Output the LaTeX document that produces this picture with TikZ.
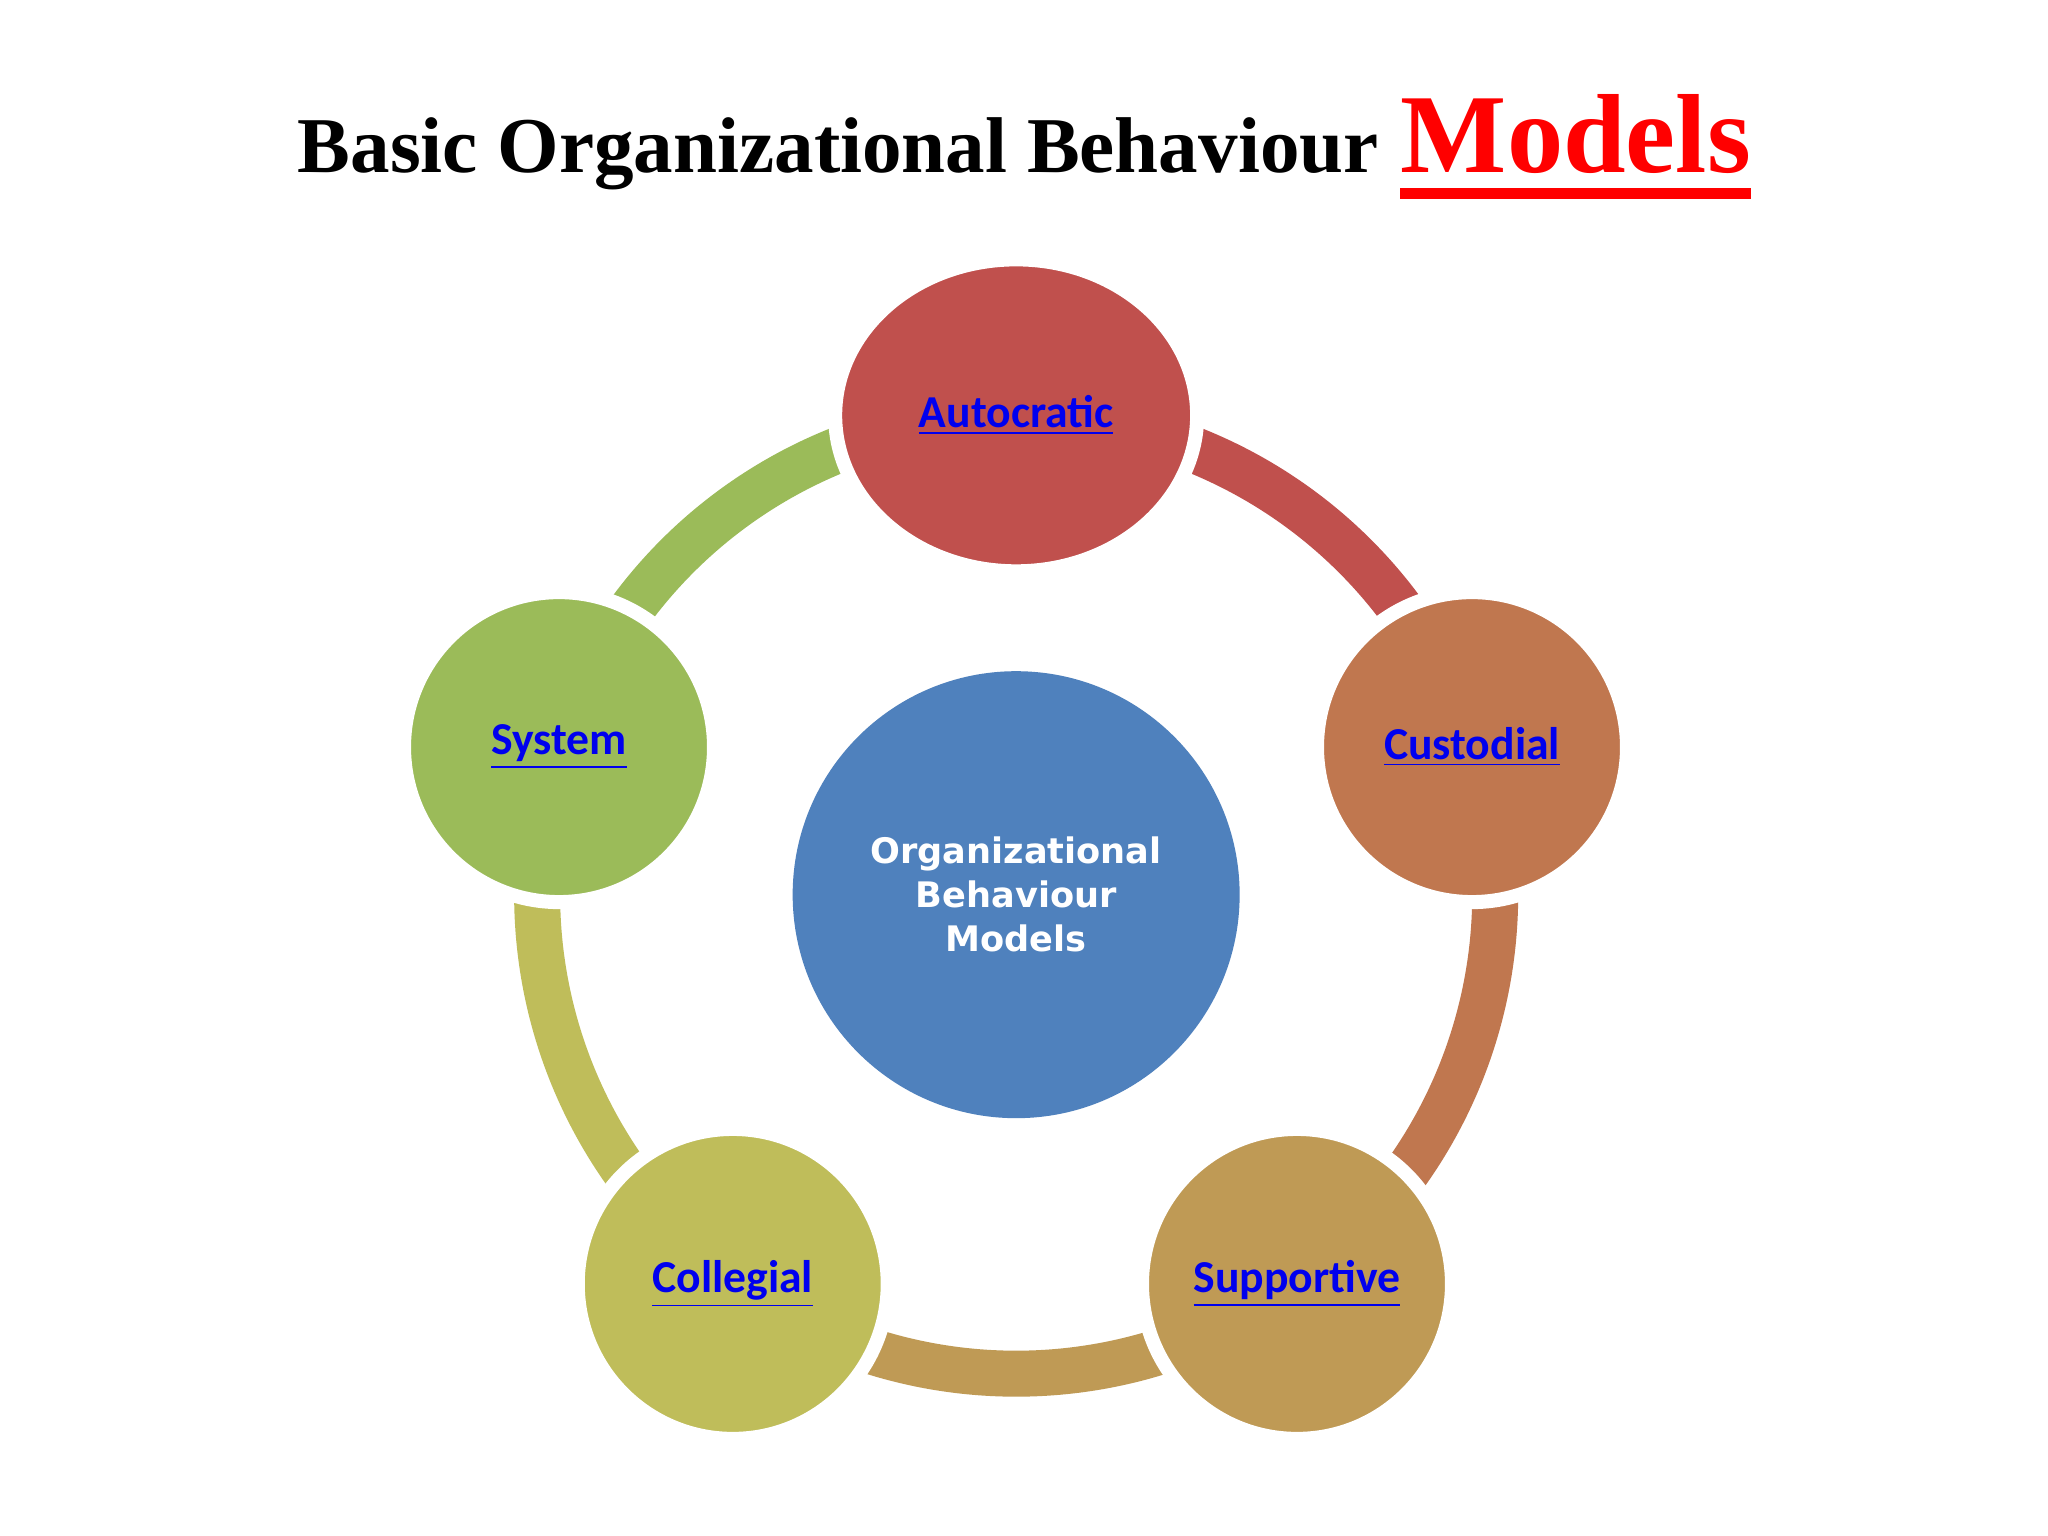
\documentclass[tikz,border=0pt]{standalone}
\usepackage{fontspec}
\setmainfont{Liberation Serif}
\newfontfamily\calibri{Carlito}
\newfontfamily\heavy{DejaVu Sans}
\usetikzlibrary{positioning,shapes.geometric}

\definecolor{autored}{HTML}{C0504D}
\definecolor{custorange}{HTML}{C0774F}
\definecolor{supptan}{HTML}{BF9A55}
\definecolor{collolive}{HTML}{BFBD5A}
\definecolor{sysgreen}{HTML}{9BBB59}
\definecolor{centreblue}{HTML}{4F81BD}
\definecolor{linkblue}{HTML}{0000EE}

\tikzset{
  model/.style={circle, draw=white, line width=4pt, minimum size=3.1cm, text=linkblue, font=\calibri\bfseries\fontsize{13}{16}\selectfont},
  ring/.style={line width=0.46cm},
}

\begin{document}
\begin{tikzpicture}[x=0.013061cm, y=-0.013061cm]
\useasboundingbox[fill=white] (0,0) rectangle (1568,1176);

% title
\node[anchor=base east, inner sep=0pt, font=\fontsize{22.5}{26}\selectfont\bfseries] (title) at (1056,132) {Basic Organizational Behaviour};
\node[anchor=base west, inner sep=0pt, text=red, font=\fontsize{32}{36}\selectfont\bfseries] (titlered) at (1072,132) {Models};
\draw[red, line width=3pt] ([yshift=-6pt]titlered.base west) -- ([yshift=-6pt]titlered.base east);

% ring
\coordinate (c) at (778,685);
\draw[ring, autored]    (c) ++(90:4.79cm)   arc[start angle=90,  end angle=18,   radius=4.79cm];
\draw[ring, custorange] (c) ++(18:4.79cm)   arc[start angle=18,  end angle=-54,  radius=4.79cm];
\draw[ring, supptan]    (c) ++(-54:4.79cm)  arc[start angle=-54, end angle=-126, radius=4.79cm];
\draw[ring, collolive]  (c) ++(-126:4.79cm) arc[start angle=-126,end angle=-198, radius=4.79cm];
\draw[ring, sysgreen]   (c) ++(162:4.79cm)  arc[start angle=162, end angle=90,   radius=4.79cm];

% centre
\node[circle, fill=centreblue, minimum size=4.47cm, align=center, text=white,
  font=\heavy\bfseries\fontsize{10}{12.5}\selectfont] (centre) at (c)
  {Organizational\\Behaviour\\Models};

% models
\node[ellipse, draw=white, line width=4pt, fill=autored, text=linkblue,
  font=\calibri\bfseries\fontsize{13}{16}\selectfont, minimum width=3.62cm, minimum height=3.12cm,
  inner sep=0pt] (auto) at (778,318) {\underline{Autocratic}};
\node[model, fill=custorange] (cust) at (1127,572) {\underline{Custodial}};
\node[model, fill=supptan] (supp) at (993,983) {\underline{Supportive}};
\node[model, fill=collolive] (coll) at (561,983) {\underline{Collegial}};
\node[model, fill=sysgreen] (sys) at (428,572) {\underline{System}};
\end{tikzpicture}
\end{document}
